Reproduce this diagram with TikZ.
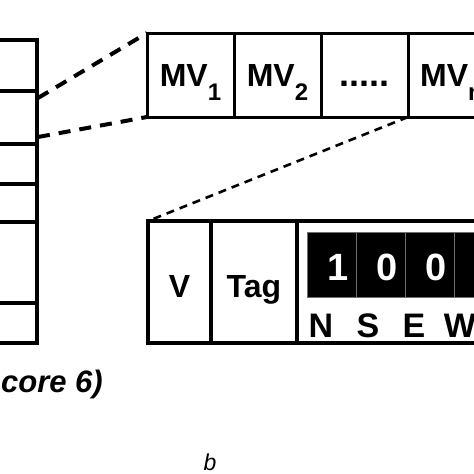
\documentclass[tikz,border=0pt]{standalone}
\usepackage{fontspec}
\setmainfont{Liberation Sans}
\usetikzlibrary{positioning}
\definecolor{sep_gray}{RGB}{110,110,110}
\newcommand{\mvsub}[1]{\raisebox{-14pt}{\fontsize{24}{24}\selectfont #1}}

\begin{document}
\begin{tikzpicture}[x=1pt, y=-1pt,
        colcell/.style={draw, line width=4pt, minimum width=80pt,
                        inner sep=0pt, outer sep=0pt},
        mvcell/.style={draw, line width=3pt, minimum width=87pt,
                       minimum height=84pt, inner sep=0pt, outer sep=0pt,
                       text height=23pt, text depth=0pt,
                       font=\bfseries\fontsize{32}{32}\selectfont},
        entcell/.style={draw, line width=4pt, minimum height=122pt,
                        inner sep=0pt, outer sep=0pt,
                        text height=30pt, text depth=0pt,
                        font=\bfseries\fontsize{32}{32}\selectfont},
        bitcell/.style={draw=sep_gray, fill=black, line width=1pt,
                        minimum width=49pt, minimum height=65pt,
                        inner sep=0pt, outer sep=0pt},
        bitval/.style={text=white, inner sep=0pt, anchor=base,
                       font=\bfseries\fontsize{38}{38}\selectfont},
        dirlab/.style={inner sep=0pt, anchor=base,
                       font=\bfseries\fontsize{34}{34}\selectfont},
        zoomthick/.style={line width=4pt, dash pattern=on 12pt off 9pt},
        zoomthin/.style={line width=2.6pt, dash pattern=on 8pt off 6pt},
      ]
        \path[use as bounding box, clip] (0,0) rectangle (474,474);

        % table of the core, cut at the left edge
        \foreach \n/\t/\b in {1/40/91, 2/91/144, 3/144/184,
                              4/184/222, 5/222/303, 6/303/343}
          \node[colcell, minimum height={(\b-\t)*1pt}]
            (col\n) at (-3, {(\t+\b)/2}) {};

        \coordinate (tapA) at (38, 98);
        \coordinate (tapB) at (38, 137);

        % motion vectors
        \node[mvcell] (mv1) at (190.5, 75) {MV\mvsub{1}};
        \node[mvcell, right=0pt of mv1] (mv2) {MV\mvsub{2}};
        \node[mvcell, right=0pt of mv2,
              font=\bfseries\fontsize{36}{36}\selectfont] (mvd) {.....};
        \node[mvcell, right=0pt of mvd] (mvn) {MV\mvsub{n}};

        \draw[zoomthick] (tapA) -- (mv1.north west);
        \draw[zoomthick] (tapB) -- (mv1.south west);

        % one entry
        \node[entcell, minimum width=63pt] (ev) at (179.5, 282) {V};
        \node[entcell, minimum width=86pt, right=0pt of ev] (etag) {Tag};
        \node[entcell, minimum width=223pt, right=0pt of etag] (edir) {};

        \draw[zoomthin] (mvn.south west) -- (ev.north west);

        \foreach \i/\x in {1/331.5, 2/380.5, 3/429.5, 4/478.5}
          \node[bitcell] (bit\i) at (\x, 264.5) {};

        \foreach \i/\v in {1/1, 2/0, 3/0}
          \node[bitval] (val\i) at ([xshift=7pt, yshift=-15.5pt]bit\i.center) {\v};

        \foreach \d/\x in {N/321, S/368, E/414, W/460}
          \node[dirlab] (dir\d) at (\x, 337) {\d};

        \node[inner sep=0pt, anchor=base east,
              font=\bfseries\itshape\fontsize{31}{31}\selectfont]
          (capA) at (103, 392) {core 6)};
        \node[inner sep=0pt, anchor=base,
              font=\itshape\fontsize{23}{23}\selectfont]
          (capB) at (210, 470) {b};
      \end{tikzpicture}
\end{document}
